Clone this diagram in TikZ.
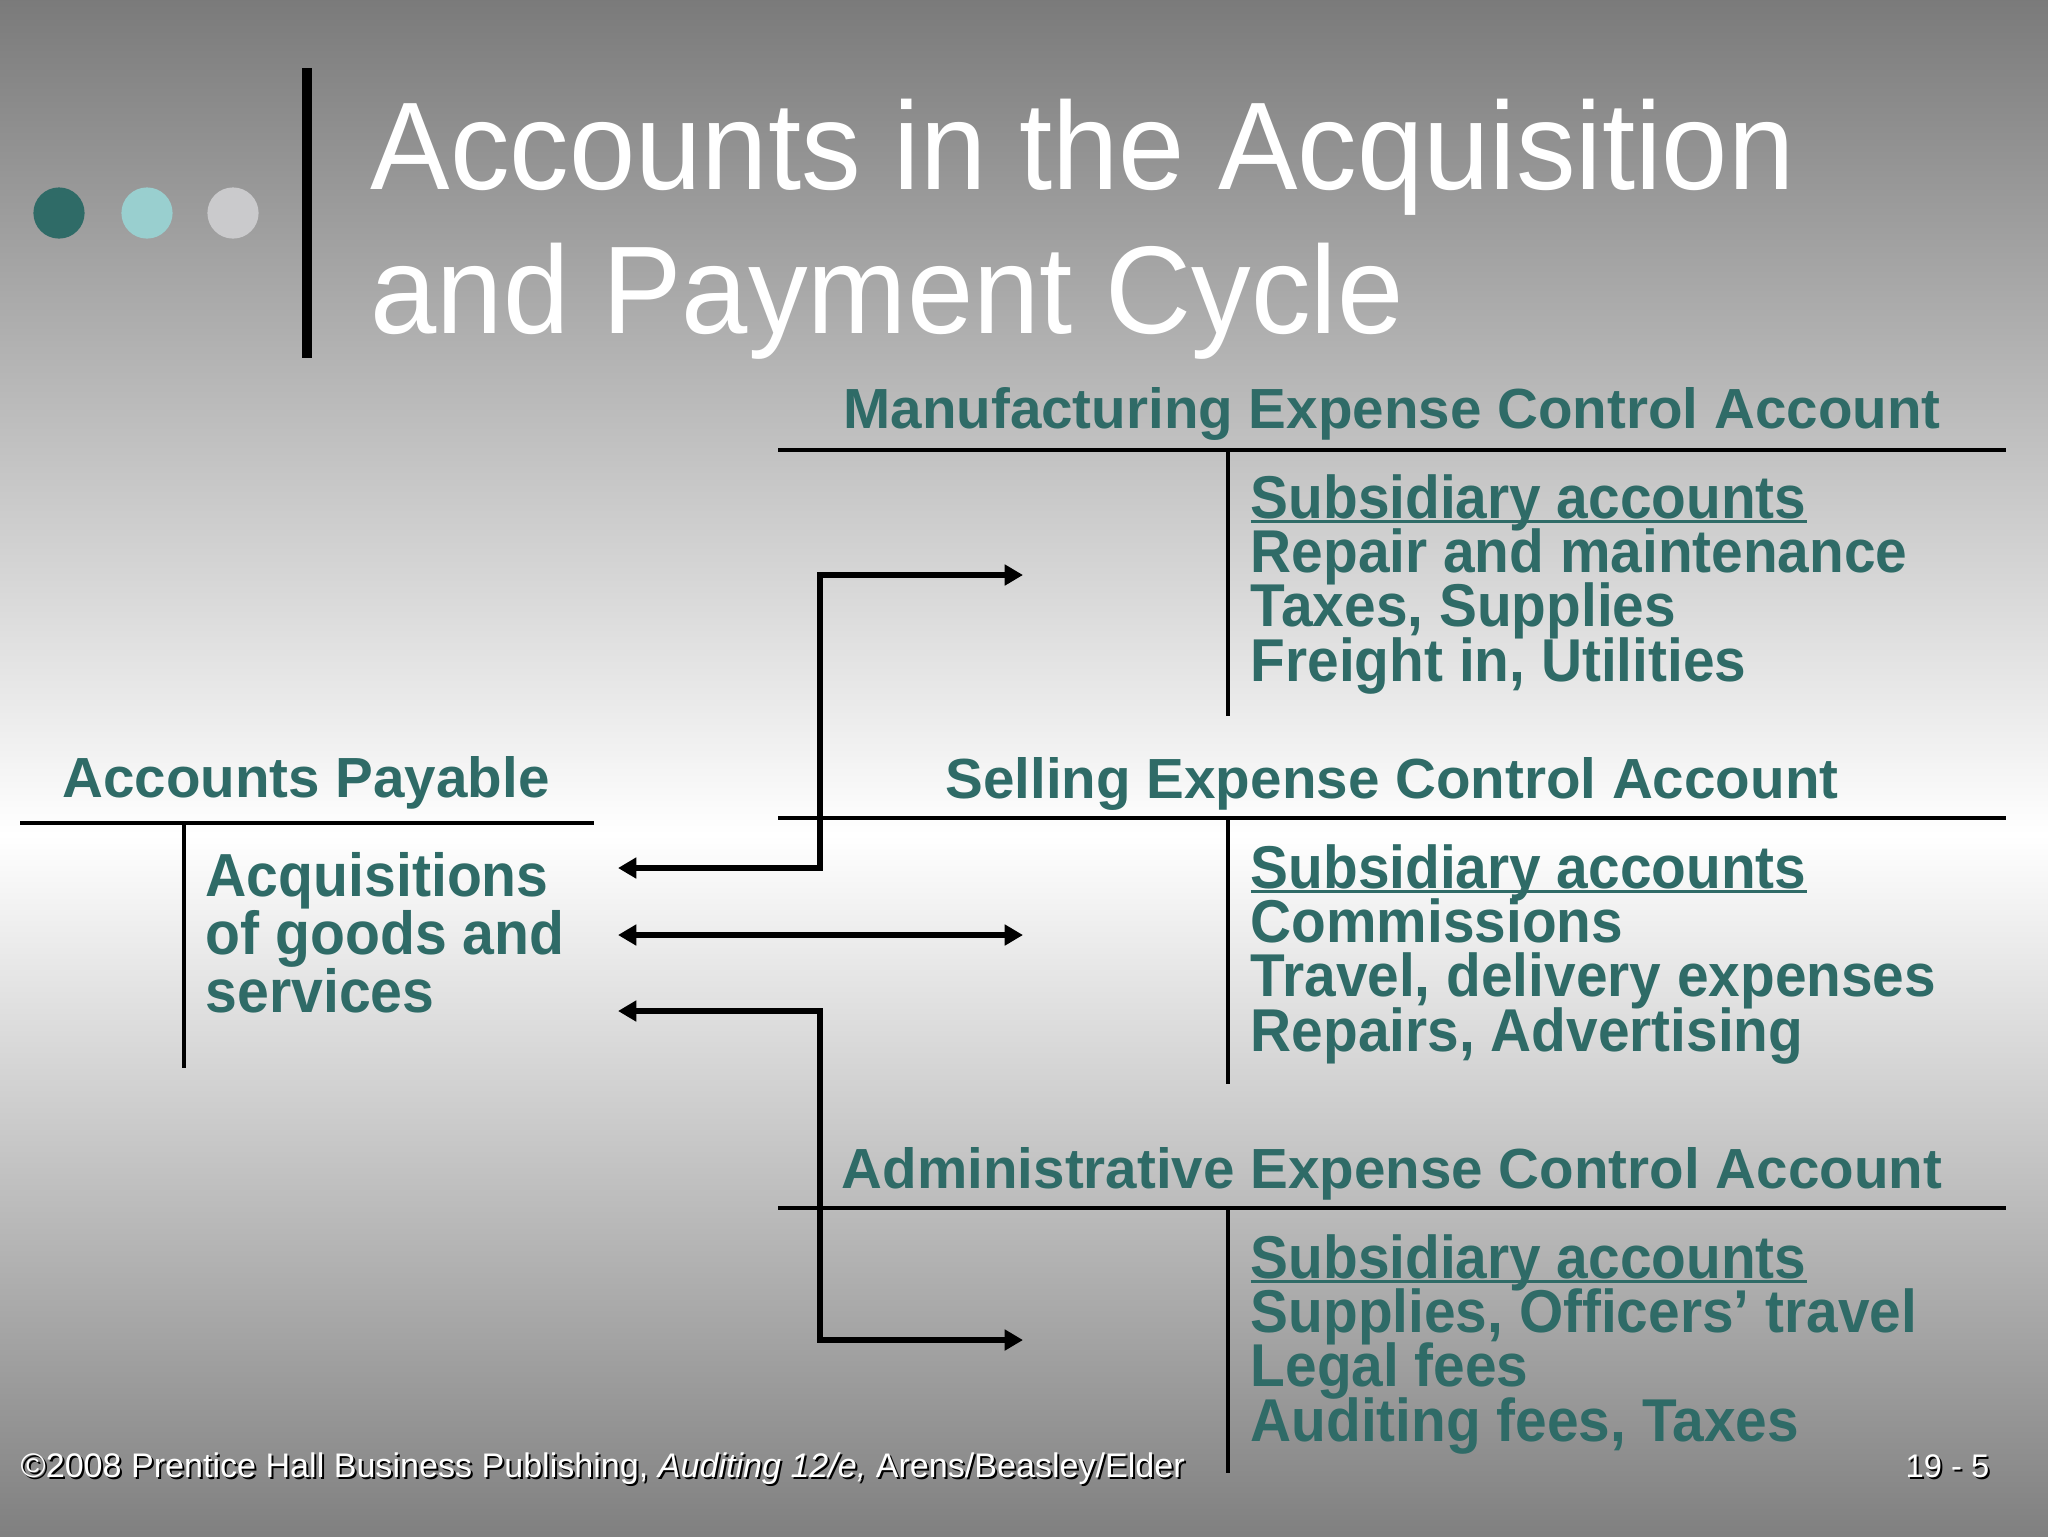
\documentclass[tikz,border=0pt]{standalone}
\usepackage{fontspec}
\setmainfont{Liberation Sans}
\newfontfamily\tallsans[FakeStretch=0.94]{Liberation Sans}
\newfontfamily\titlesans[FakeStretch=0.955]{Liberation Sans}
\usetikzlibrary{arrows.meta}
\definecolor{acctteal}{HTML}{2F6B67}
\definecolor{dotaqua}{HTML}{99CFCF}
\definecolor{dotgrey}{HTML}{CACACC}
\newcommand{\acctul}[1]{\leavevmode\setbox0\hbox{#1}\rlap{\rule[-1.3pt]{\wd0}{0.9pt}}\box0}
\newcommand{\tightlines}{\lineskiplimit=-100pt\lineskip=0pt}
\begin{document}
\begin{tikzpicture}[x=0.1mm,y=-0.1mm,
  head/.style={font=\bfseries\fontsize{16.1}{19}\selectfont, text=acctteal, inner sep=0pt, anchor=base},
  subacct/.style={font=\tallsans\bfseries\fontsize{17.2}{15.4}\selectfont\tightlines, text=acctteal, inner sep=0pt, anchor=base west, align=left},
  footnote/.style={font=\fontsize{9.3}{11}\selectfont, inner sep=0pt},
  tline/.style={line width=1.15pt},
  flow/.style={line width=1.7pt, {Triangle[length=5.2pt,width=5.7pt]}-{Triangle[length=5.2pt,width=5.7pt]}}]
\useasboundingbox (0,0) rectangle (2048,1536);
\shade[top color=black!52, bottom color=white] (0,0) rectangle (2048,835);
\shade[top color=white, bottom color=black!50] (0,835) rectangle (2048,1536);

% title
\foreach \dotcol/\dotx in {acctteal/59, dotaqua/147, dotgrey/233}
  \fill[\dotcol] (\dotx,213) circle[radius=2.56mm];
\path[draw,line width=2.6pt] (307,68) -- (307,358);
\node[font=\titlesans\fontsize{35.5}{40.7}\selectfont\tightlines, text=white, inner sep=0pt, anchor=base west, align=left] (title) at (370,333) {Accounts in the Acquisition\\and Payment Cycle};

% control accounts
\node[head] (mfghead) at (1392,428) {Manufacturing Expense Control Account};
\node[head] (sellhead) at (1392,798) {Selling Expense Control Account};
\node[head] (adminhead) at (1392,1188) {Administrative Expense Control Account};

\path[draw,tline] (778,450) -- (2006,450) (1228,450) -- (1228,716);
\path[draw,tline] (778,818) -- (2006,818) (1228,818) -- (1228,1084);
\path[draw,tline] (778,1208) -- (2006,1208) (1228,1208) -- (1228,1473);

\node[subacct] (mfgsub) at (1250,681) {\acctul{Subsidiary accounts}\\Repair and maintenance\\Taxes, Supplies\\Freight in, Utilities};
\node[subacct] (sellsub) at (1250,1051) {\acctul{Subsidiary accounts}\\Commissions\\Travel, delivery expenses\\Repairs, Advertising};
\node[subacct] (adminsub) at (1250,1441) {\acctul{Subsidiary accounts}\\Supplies, Officers’ travel\\Legal fees\\Auditing fees, Taxes};

% accounts payable
\node[head] (payhead) at (306,797) {Accounts Payable};
\path[draw,tline] (20,823) -- (594,823) (184,823) -- (184,1068);
\node[subacct, font=\tallsans\bfseries\fontsize{17.3}{16.5}\selectfont\tightlines] (paybody) at (205,1012) {Acquisitions\\of goods and\\services};

% flows
\coordinate (mfgin) at (1023,575);
\coordinate (sellin) at (1023,935);
\coordinate (adminin) at (1023,1340);
\coordinate (payout1) at (618,868);
\coordinate (payout2) at (618,935);
\coordinate (payout3) at (618,1011);
\coordinate (riseup) at (820,720);
\coordinate (risedown) at (820,1170);
\path[draw,flow] (payout1) -| (riseup) |- (mfgin);
\path[draw,flow] (payout2) -- (sellin);
\path[draw,flow] (payout3) -| (risedown) |- (adminin);

% footer
\node[footnote, font=\fontsize{9.7}{11}\selectfont, text=black, anchor=base west] (footshadow) at (22,1479) {©2008 Prentice Hall Business Publishing, \textit{Auditing 12/e,} Arens/Beasley/Elder};
\node[footnote, font=\fontsize{9.7}{11}\selectfont, text=white, anchor=base west] (footer) at (20,1477) {©2008 Prentice Hall Business Publishing, \textit{Auditing 12/e,} Arens/Beasley/Elder};
\node[footnote, text=black, anchor=base east] (pageshadow) at (1992,1479) {19 - 5};
\node[footnote, text=white, anchor=base east] (pageno) at (1990,1477) {19 - 5};
\end{tikzpicture}
\end{document}
